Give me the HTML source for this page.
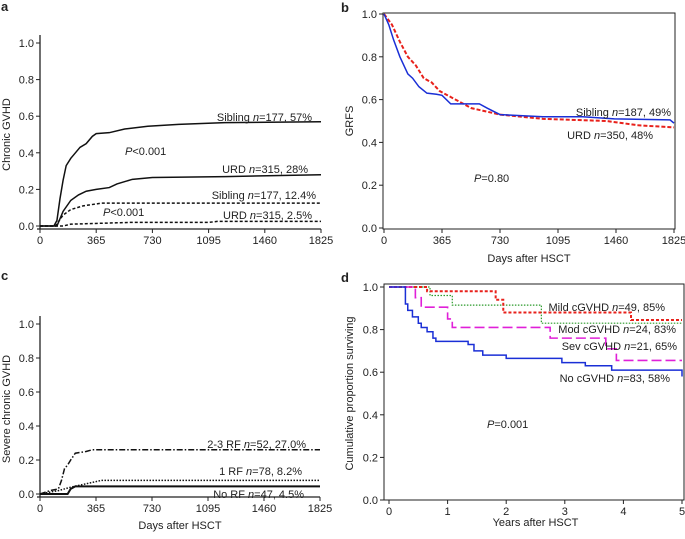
<!DOCTYPE html>
<html><head><meta charset="utf-8"><style>
body{margin:0;background:#fff;}
svg text{font-family:"Liberation Sans",sans-serif;fill:#222;}
</style></head><body>
<svg id="fig" width="685" height="534" viewBox="0 0 685 534" xmlns="http://www.w3.org/2000/svg"></svg>
<script>
// ---- Panel a data ----
const aXTicks=[0,365,730,1095,1460,1825];
const aYTicks=[0,0.2,0.4,0.6,0.8,1.0];
const aSibT=[0,90,110,130,150,170,200,230,260,300,340,365,450,550,700,900,1200,1825];
const aSibV=[0,0,0.03,0.15,0.25,0.33,0.37,0.40,0.43,0.45,0.49,0.505,0.51,0.53,0.545,0.555,0.565,0.57];
const aUrdT=[0,110,150,200,250,300,365,450,500,600,730,1200,1825];
const aUrdV=[0,0,0.08,0.14,0.17,0.19,0.2,0.21,0.23,0.255,0.265,0.27,0.28];
const aSibSevT=[0,100,150,200,280,400,1825];
const aSibSevV=[0,0,0.06,0.09,0.11,0.125,0.125];
const aUrdSevT=[0,150,200,400,600,1100,1150,1825];
const aUrdSevV=[0,0,0.01,0.015,0.02,0.02,0.025,0.025];
// ---- Panel b data ----
const bSibT=[0,30,60,100,150,180,220,270,330,365,420,600,650,730,1000,1250,1450,1800,1825];
const bSibV=[1,0.95,0.88,0.8,0.72,0.7,0.66,0.63,0.625,0.62,0.58,0.58,0.56,0.53,0.52,0.52,0.51,0.505,0.49];
const bUrdT=[0,50,100,150,200,250,300,350,450,550,730,1000,1400,1600,1825];
const bUrdV=[1,0.95,0.87,0.8,0.76,0.7,0.68,0.64,0.6,0.56,0.53,0.51,0.5,0.48,0.47];
// ---- Panel c data ----
const cHighT=[0,65,120,140,160,180,200,230,300,340,1825];
const cHighV=[0,0.02,0.03,0.08,0.15,0.17,0.2,0.24,0.25,0.26,0.26];
const cOneT=[0,120,200,250,300,400,1825];
const cOneV=[0,0.02,0.04,0.05,0.06,0.08,0.08];
const cNoT=[0,180,200,230,1825];
const cNoV=[0,0,0.03,0.045,0.045];
// ---- Panel d data ----
const dXTicks=[0,1,2,3,4,5];
const dNoT=[0,0.28,0.32,0.4,0.5,0.55,0.65,0.75,0.8,1.35,1.45,1.6,2.0,2.95,3.35,3.8,5,5];
const dNoV=[1,0.92,0.89,0.86,0.83,0.81,0.79,0.76,0.745,0.73,0.70,0.68,0.665,0.645,0.63,0.61,0.6,0.58];
const dMildT=[0,0.65,1.82,1.95,4.13,5];
const dMildV=[1,0.98,0.94,0.88,0.845,0.845];
const dModT=[0,0.7,1.08,2.6,5];
const dModV=[1,0.96,0.915,0.83,0.83];
const dSevT=[0,0.45,0.55,1.0,1.08,2.75,3.7,3.88,5];
const dSevV=[1,0.95,0.905,0.85,0.81,0.76,0.71,0.655,0.655];

const NS="http://www.w3.org/2000/svg";
const svg=document.getElementById('fig');
function mk(tag,attrs,parent){const e=document.createElementNS(NS,tag);for(const k in attrs)e.setAttribute(k,attrs[k]);(parent||svg).appendChild(e);return e;}
function txt(x,y,s,opts,parent){const t=mk('text',Object.assign({x:x,y:y,'font-size':11},opts||{}),parent);t.innerHTML=s;return t;}

function panel(cfg){
  const g=mk('g',{});
  
  
  const sx=v=>cfg.x0+(v-cfg.xmin)/(cfg.xmax-cfg.xmin)*(cfg.x1-cfg.x0);
  const sy=v=>cfg.y0-v*(cfg.y0-cfg.y1);
  const t=txt(cfg.lx,cfg.ly,cfg.letter,{'font-size':13,'font-weight':'bold'},g);
  
  if(cfg.box){const r=mk('rect',{x:cfg.bx0,y:cfg.by0,width:cfg.bx1-cfg.bx0,height:cfg.by1-cfg.by0,fill:'none',stroke:'#222','stroke-width':1},g);
    }
  else{
    const ya=mk('line',{x1:cfg.x0,y1:cfg.y1-8,x2:cfg.x0,y2:cfg.y0+3,stroke:'#222','stroke-width':1.3},g);
    
    const xa=mk('line',{x1:cfg.x0-3,y1:cfg.y0+3,x2:cfg.x1,y2:cfg.y0+3,stroke:'#222','stroke-width':1.3},g);
    
  }
  const xb=cfg.box?cfg.by1:cfg.y0+3;
  cfg.xticks.forEach(v=>{
    mk('line',{x1:sx(v),y1:xb,x2:sx(v),y2:xb+4,stroke:'#222'},g);
    const l=txt(sx(v),xb+15,String(v),{'text-anchor':'middle'},g);
    
  });
  const yl=cfg.box?cfg.bx0:cfg.x0;
  aYTicks.forEach(v=>{
    mk('line',{x1:yl-4,y1:sy(v),x2:yl,y2:sy(v),stroke:'#222'},g);
    const l=txt(yl-6,sy(v)+4,v.toFixed(1),{'text-anchor':'end'},g);
    
  });
  const yt=txt(0,0,cfg.ytitle,{'text-anchor':'middle',transform:`translate(${cfg.ytx},${(cfg.y0+cfg.y1)/2}) rotate(-90)`},g);
  
  if(cfg.xtitle){const xt=txt((cfg.x0+cfg.x1)/2,cfg.xty,cfg.xtitle,{'text-anchor':'middle'},g);
    }
  cfg.series.forEach(s=>{
    let d='M'+sx(s.t[0])+','+sy(s.v[0]);
    for(let i=1;i<s.t.length;i++){
      if(cfg.lin) d+=' L'+sx(s.t[i])+','+sy(s.v[i]);
      else d+=' H'+sx(s.t[i])+' V'+sy(s.v[i]);
    }
    const p=mk('path',{d:d,fill:'none',stroke:s.c,'stroke-width':s.w||1.5,'stroke-dasharray':s.dash||'none'},g);
    
  });
  cfg.labels.forEach(L=>{
    const l=txt(L[0],L[1],L[2],{'text-anchor':L[3]||'end'},g);
    
  });
}
const ni='<tspan font-style="italic">n</tspan>';
const Pi='<tspan font-style="italic">P</tspan>';
panel({name:'panel-a',letter:'a',lx:1,ly:11,x0:40,x1:321,y0:226,y1:43,xmin:0,xmax:1825,xticks:aXTicks,lin:true,
  ytitle:'Chronic GVHD',ytx:10,box:false,
  series:[{t:aSibT,v:aSibV,c:'#111',name:'sibling-line'},{t:aUrdT,v:aUrdV,c:'#111',name:'urd-line'},
    {t:aSibSevT,v:aSibSevV,c:'#111',dash:'3,2',name:'sibling-severe-line'},{t:aUrdSevT,v:aUrdSevV,c:'#111',dash:'3,2',name:'urd-severe-line'}],
  labels:[[312,121,'Sibling '+ni+'=177, 57%','end','sibling-label'],[125,155,Pi+'&lt;0.001','start','p-value-1'],
    [308,173,'URD '+ni+'=315, 28%','end','urd-label'],[316,199,'Sibling '+ni+'=177, 12.4%','end','sibling-severe-label'],
    [103,216,Pi+'&lt;0.001','start','p-value-2'],[312,219,'URD '+ni+'=315, 2.5%','end','urd-severe-label']]});
panel({name:'panel-b',letter:'b',lx:341,ly:12,x0:384,x1:674,y0:228,y1:14,xmin:0,xmax:1825,xticks:aXTicks,lin:true,
  ytitle:'GRFS',ytx:353,box:true,bx0:383,bx1:675,by0:13,by1:229,xtitle:'Days after HSCT',xty:262,
  series:[{t:bUrdT,v:bUrdV,c:'#e8211b',dash:'4,2',w:2,name:'urd-line'},{t:bSibT,v:bSibV,c:'#1a2fd6',name:'sibling-line'}],
  labels:[[671,116,'Sibling '+ni+'=187, 49%','end','sibling-label'],[653,139,'URD '+ni+'=350, 48%','end','urd-label'],
    [474,182,Pi+'=0.80','start','p-value']]});
panel({name:'panel-c',letter:'c',lx:1,ly:280,x0:40,x1:320,y0:494,y1:324,xmin:0,xmax:1825,xticks:aXTicks,lin:true,
  ytitle:'Severe chronic GVHD',ytx:10,box:false,xtitle:'Days after HSCT',xty:529,
  series:[{t:cHighT,v:cHighV,c:'#111',dash:'6,2,1.5,2',name:'two-three-rf-line'},{t:cOneT,v:cOneV,c:'#111',dash:'1.5,1.5',name:'one-rf-line'},
    {t:cNoT,v:cNoV,c:'#111',w:2,name:'no-rf-line'}],
  labels:[[306,448,'2-3 RF '+ni+'=52, 27.0%','end','two-three-rf-label'],[302,475,'1 RF '+ni+'=78, 8.2%','end','one-rf-label'],
    [304,498,'No RF '+ni+'=47, 4.5%','end','no-rf-label']]});
panel({name:'panel-d',letter:'d',lx:341,ly:282,x0:389,x1:682,y0:500,y1:287,xmin:0,xmax:5,xticks:dXTicks,
  ytitle:'Cumulative proportion surviving',ytx:353,box:true,bx0:384,bx1:684,by0:284,by1:500,xtitle:'Years after HSCT',xty:526,
  series:[{t:dModT,v:dModV,c:'#2a9a2a',dash:'1.5,1.5',w:1.2,name:'mod-cgvhd-line'},{t:dMildT,v:dMildV,c:'#e8211b',dash:'3,2',w:2,name:'mild-cgvhd-line'},
    {t:dSevT,v:dSevV,c:'#e020d8',dash:'10,4',w:1.6,name:'sev-cgvhd-line'},{t:dNoT,v:dNoV,c:'#1a2fd6',name:'no-cgvhd-line'}],
  labels:[[665,311,'Mild cGVHD '+ni+'=49, 85%','end','mild-cgvhd-label'],[676,333,'Mod cGVHD '+ni+'=24, 83%','end','mod-cgvhd-label'],
    [677,350,'Sev cGVHD '+ni+'=21, 65%','end','sev-cgvhd-label'],[670,382,'No cGVHD '+ni+'=83, 58%','end','no-cgvhd-label'],
    [487,428,Pi+'=0.001','start','p-value']]});
</script>
</body></html>
